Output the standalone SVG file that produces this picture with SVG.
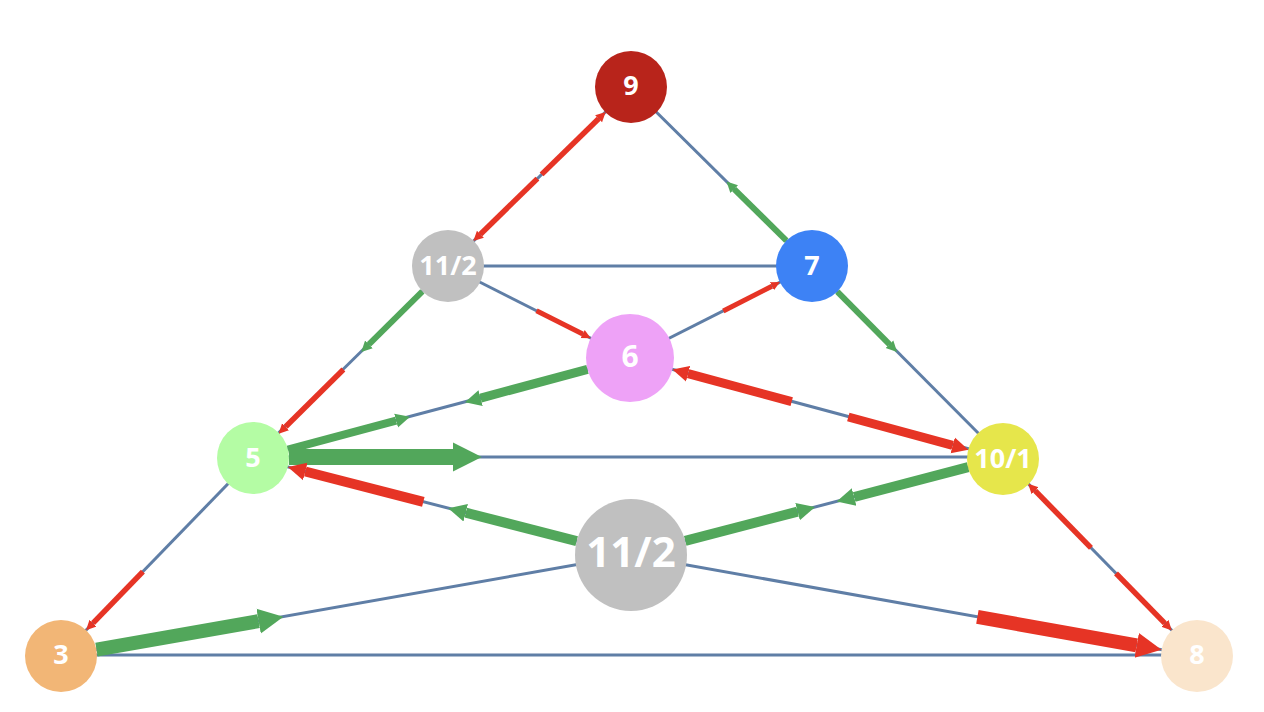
<svg xmlns="http://www.w3.org/2000/svg" width="1264" height="712" viewBox="0 0 1264 712">
<defs>
<style>
.base{stroke:#5f7ea6;stroke-width:3;fill:none}
.r{stroke:#e63425;fill:none}
.g{stroke:#52a75b;fill:none}
.lbl{font-family:"Open Sans","DejaVu Sans",sans-serif;font-weight:bold;fill:#ffffff;text-anchor:middle}
</style>
<marker id="hr" viewBox="0 0 10 10" refX="0" refY="5" markerWidth="1.8" markerHeight="2.1" orient="auto" markerUnits="strokeWidth"><path d="M0,0 L10,5 L0,10 z" fill="#e63425"/></marker>
<marker id="hg" viewBox="0 0 10 10" refX="0" refY="5" markerWidth="1.8" markerHeight="2.1" orient="auto" markerUnits="strokeWidth"><path d="M0,0 L10,5 L0,10 z" fill="#52a75b"/></marker>
</defs>
<rect width="1264" height="712" fill="#ffffff"/>
<g id="connectors">
<line class="base" x1="448" y1="266" x2="631" y2="87"/>
<line class="base" x1="631" y1="87" x2="812" y2="266"/>
<line class="base" x1="448" y1="266" x2="812" y2="266"/>
<line class="base" x1="448" y1="266" x2="630" y2="358"/>
<line class="base" x1="630" y1="358" x2="812" y2="266"/>
<line class="base" x1="448" y1="266" x2="253" y2="458"/>
<line class="base" x1="812" y1="266" x2="1003" y2="458"/>
<line class="base" x1="630" y1="358" x2="253" y2="458"/>
<line class="base" x1="630" y1="358" x2="1003" y2="458"/>
<line class="base" x1="253" y1="457" x2="1003" y2="457"/>
<line class="base" x1="253" y1="458" x2="61" y2="656"/>
<line class="base" x1="253" y1="458" x2="631" y2="555"/>
<line class="base" x1="631" y1="555" x2="1003" y2="458"/>
<line class="base" x1="631" y1="555" x2="61" y2="656"/>
<line class="base" x1="631" y1="555" x2="1197" y2="656"/>
<line class="base" x1="61" y1="655" x2="1197" y2="655"/>
<line class="base" x1="1003" y1="458" x2="1197" y2="656"/>

<path class="r" stroke-width="5.5" d="M541.6,174.4 L598.6,118.8" marker-end="url(#hr)"/>
<path class="r" stroke-width="5.5" d="M537.4,178.6 L480.4,234.2" marker-end="url(#hr)"/>
<path class="g" stroke-width="6" d="M786.4,240.7 L734.2,189.1" marker-end="url(#hg)"/>
<path class="g" stroke-width="6" d="M422.4,291.3 L368.9,344.4" marker-end="url(#hg)"/>
<path class="r" stroke-width="5.5" d="M343.4,369.5 L285.6,426.8" marker-end="url(#hr)"/>
<path class="r" stroke-width="5" d="M536.5,310.7 L582.7,334.1" marker-end="url(#hr)"/>
<path class="r" stroke-width="5" d="M723.3,310.9 L771.9,286.2" marker-end="url(#hr)"/>
<path class="g" stroke-width="6" d="M837.3,291.6 L889.5,344.3" marker-end="url(#hg)"/>
<path class="g" stroke-width="9" d="M587.5,369.4 L480.6,398.1" marker-end="url(#hg)"/>
<path class="g" stroke-width="8" d="M287.8,449.7 L396.1,420.6" marker-end="url(#hg)"/>
<path class="r" stroke-width="9" d="M791.7,401.7 L688.1,373.7" marker-end="url(#hr)"/>
<path class="r" stroke-width="9" d="M848.3,417 L952.7,445.4" marker-end="url(#hr)"/>
<path class="g" stroke-width="16" d="M289,457 L453,457" marker-end="url(#hg)"/>
<path class="r" stroke-width="10" d="M423.3,501.8 L305.3,471.5" marker-end="url(#hr)"/>
<path class="g" stroke-width="10" d="M576.7,541.1 L465.7,512.7" marker-end="url(#hg)"/>
<path class="g" stroke-width="10" d="M685.2,540.9 L797.6,511.6" marker-end="url(#hg)"/>
<path class="g" stroke-width="10" d="M968.2,467.1 L854.1,497" marker-end="url(#hg)"/>
<path class="g" stroke-width="14" d="M96.5,649.7 L258.6,621.1" marker-end="url(#hg)"/>
<path class="r" stroke-width="5.5" d="M142.9,571.6 L93,623.1" marker-end="url(#hr)"/>
<path class="r" stroke-width="14" d="M977.4,616.9 L1136.7,645.3" marker-end="url(#hr)"/>
<path class="r" stroke-width="5.5" d="M1091,547.8 L1035.1,490.7" marker-end="url(#hr)"/>
<path class="r" stroke-width="5.5" d="M1116,573.3 L1164.9,623.3" marker-end="url(#hr)"/>
</g>
<g id="n9"><circle cx="631" cy="87" r="36" fill="#b8241b"/><text class="lbl" x="631" y="95" font-size="27">9</text></g>
<g id="n11_2a"><circle cx="448" cy="266" r="36" fill="#c0c0c0"/><text class="lbl" x="448" y="274.5" font-size="27">11/2</text></g>
<g id="n7"><circle cx="812" cy="266" r="36" fill="#3d82f5"/><text class="lbl" x="812" y="274.5" font-size="27">7</text></g>
<g id="n6"><circle cx="630" cy="358" r="44" fill="#eea2f7"/><text class="lbl" x="630" y="367" font-size="30">6</text></g>
<g id="n5"><circle cx="253" cy="458" r="36" fill="#b4fca4"/><text class="lbl" x="253" y="467" font-size="27">5</text></g>
<g id="n10_1"><circle cx="1003" cy="459" r="36" fill="#e6e64b"/><text class="lbl" x="1003" y="468" font-size="27">10/1</text></g>
<g id="n11_2b"><circle cx="631" cy="555" r="56" fill="#c0c0c0"/><text class="lbl" x="631" y="567" font-size="42">11/2</text></g>
<g id="n3"><circle cx="61" cy="656" r="36" fill="#f2b676"/><text class="lbl" x="61" y="664" font-size="27">3</text></g>
<g id="n8"><circle cx="1197" cy="656" r="36" fill="#fae5cc"/><text class="lbl" x="1197" y="664" font-size="27">8</text></g>
</svg>
